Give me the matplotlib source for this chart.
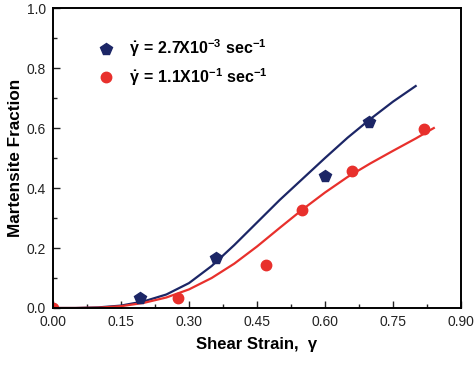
import matplotlib
matplotlib.use("Agg")
import matplotlib.pyplot as plt
from matplotlib.ticker import MultipleLocator, FormatStrFormatter

plt.rcParams['font.family'] = ['Liberation Sans', 'DejaVu Sans']
plt.rcParams['mathtext.fontset'] = 'custom'
plt.rcParams['mathtext.rm'] = 'Liberation Sans:bold'
plt.rcParams['mathtext.it'] = 'Liberation Sans:bold'
plt.rcParams['mathtext.bf'] = 'Liberation Sans:bold'
plt.rcParams['mathtext.sf'] = 'Liberation Sans:bold'
plt.rcParams['mathtext.default'] = 'rm'

# Measured data
blue_x = [0.191, 0.36, 0.60, 0.698]
blue_y = [0.034, 0.168, 0.441, 0.620]
red_x = [0.0, 0.275, 0.469, 0.549, 0.659, 0.818]
red_y = [0.0, 0.034, 0.143, 0.327, 0.458, 0.596]

# Fitted curves
blue_cx = [0.00, 0.05, 0.10, 0.15, 0.20, 0.25, 0.30, 0.35, 0.40, 0.45, 0.50, 0.55, 0.60, 0.65, 0.70, 0.75, 0.80]
blue_cy = [0.000, 0.000, 0.002, 0.008, 0.022, 0.045, 0.083, 0.140, 0.210, 0.285, 0.360, 0.430, 0.500, 0.568, 0.630, 0.688, 0.740]
red_cx = [0.00, 0.05, 0.10, 0.15, 0.20, 0.25, 0.30, 0.35, 0.40, 0.45, 0.50, 0.55, 0.60, 0.65, 0.70, 0.75, 0.80, 0.84]
red_cy = [0.000, 0.000, 0.001, 0.006, 0.017, 0.035, 0.062, 0.100, 0.148, 0.205, 0.267, 0.328, 0.385, 0.437, 0.482, 0.524, 0.565, 0.600]

blue_label = r'$\dot{\gamma}\,=\,2.7X10^{-3}\ sec^{-1}$'
red_label = r'$\dot{\gamma}\,=\,1.1X10^{-1}\ sec^{-1}$'

navy = '#1c2666'
red = '#e8302c'

fig = plt.figure(figsize=(4.74, 3.66), dpi=100)
ax = fig.add_axes([0.1118, 0.1585, 0.8608, 0.8195])

ax.plot(blue_cx, blue_cy, color=navy, lw=1.6)
ax.plot(red_cx, red_cy, color=red, lw=1.6)
ax.plot(blue_x, blue_y, 'p', color=navy, ms=8.5, ls='none', label=blue_label)
ax.plot(red_x, red_y, 'o', color=red, ms=7.5, ls='none', label=red_label)

ax.set_xlim(0, 0.90)
ax.set_ylim(0, 1.0)
ax.xaxis.set_major_locator(MultipleLocator(0.15))
ax.xaxis.set_minor_locator(MultipleLocator(0.075))
ax.yaxis.set_major_locator(MultipleLocator(0.2))
ax.yaxis.set_minor_locator(MultipleLocator(0.1))
ax.xaxis.set_major_formatter(FormatStrFormatter('%.2f'))
ax.yaxis.set_major_formatter(FormatStrFormatter('%.1f'))
ax.tick_params(which='both', direction='in', top=False, right=False, labelsize=10, width=1.0, colors='#222222', pad=5)
ax.tick_params(which='major', length=5)
ax.tick_params(which='minor', length=3)
for s in ax.spines.values():
    s.set_linewidth(1.4)

ax.set_xlabel('Shear Strain,  γ', fontsize=12, fontweight='bold', labelpad=6)
ax.set_ylabel('Martensite Fraction', fontsize=12.3, fontweight='bold', labelpad=3)

ax.legend(loc='upper left', bbox_to_anchor=(0.07, 0.95), frameon=False, fontsize=11.5,
          handletextpad=0.9, labelspacing=0.45, handlelength=1.2)

fig.savefig('out.png', dpi=100)
